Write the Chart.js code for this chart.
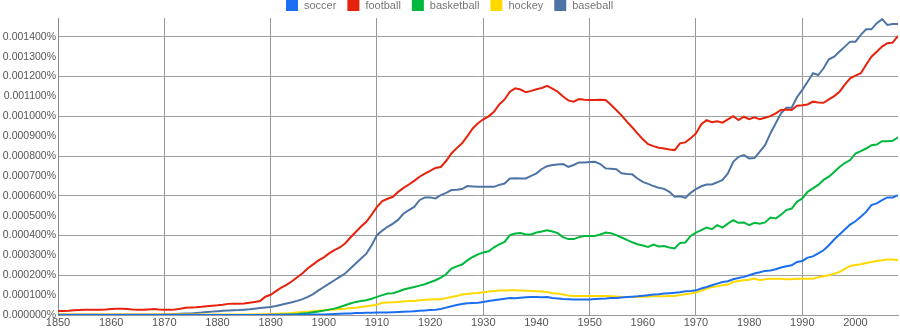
<!DOCTYPE html>
<html>
<head>
<meta charset="utf-8">
<script src="https://cdn.jsdelivr.net/npm/chart.js@4.4.1/dist/chart.umd.min.js"></script>
<style>
  html, body { margin: 0; padding: 0; background: #fff; }
  #wrap { width: 900px; height: 330px; position: relative; }
</style>
</head>
<body>
<div id="wrap"><canvas id="chart"></canvas></div>
<script>
//
// data, in millionths of a percent (1400 = 0.001400%), one value per year 1850-2008
//
const firstYear = 1850;
const lastYear = 2008;

const soccer = [
  0,0,0,0,0,0,0,0,0,0, 0,0,0,0,0,0,0,0,0,0,
  0,0,0,0,0,0,0,0,0,0, 0,0,0,0,0,0,0,0,0,0,
  1,1,1,1,1,1,2,2,2,2,
  3,4,5,6,7,8,10,10,11,11, 12,12,13,14,15,16,17,19,21,23,
  25,27,30,37,44,50,55,59,61,62, 66,70,74,78,82,86,84,87,89,91,
  90,89,90,86,83,80,79,78,78,78, 78,80,82,83,85,86,88,90,92,94,
  97,100,103,105,108,110,112,115,119,121, 124,133,141,150,158,166,170,180,186,192,
  200,209,215,222,224,230,239,245,250,267, 272,289,295,310,326,351,380,405,430,455,
  472,495,519,553,562,578,592,592,603
];
const football = [
  20,20,21,24,25,26,26,27,27,28, 30,31,31,30,28,27,26,28,30,28,
  27,27,28,32,37,38,39,41,44,47, 49,52,56,57,57,58,62,66,70,92,
  102,120,138,152,170,190,210,235,255,275,
  290,310,326,340,360,390,418,445,469,505, 544,573,585,595,620,640,657,675,696,712,
  725,740,745,775,813,840,864,900,939,965, 985,1000,1023,1060,1085,1124,1141,1135,1121,1128,
  1136,1143,1154,1140,1124,1100,1080,1074,1087,1083, 1082,1082,1084,1082,1058,1032,1005,973,945,914,
  885,860,850,842,838,833,830,864,869,890, 914,960,981,970,975,968,985,1001,981,998,
  986,995,985,993,1001,1015,1032,1035,1032,1053, 1056,1060,1074,1070,1068,1085,1102,1124,1160,1191,
  1205,1217,1260,1300,1325,1351,1368,1371,1405
];
const basketball = [
  0,0,0,0,0,0,0,0,0,0, 0,0,0,0,0,0,0,0,0,0,
  0,0,0,0,0,0,0,0,0,0, 0,0,0,0,0,0,0,0,0,0,
  0,0,1,2,3,5,8,10,14,18,
  22,27,32,40,49,58,66,70,74,82, 91,100,108,110,118,128,135,141,148,155,
  165,175,188,205,234,245,254,275,292,305, 315,321,340,355,368,402,410,413,405,405,
  415,420,427,420,412,392,382,382,392,398, 398,398,405,415,412,402,390,378,366,356,
  350,343,355,345,347,340,335,363,365,398, 415,427,440,432,452,440,460,477,464,466,
  452,464,460,466,491,486,505,528,536,570, 587,620,637,655,680,696,720,745,765,780,
  813,825,838,855,858,875,875,877,894
];
const hockey = [
  2,2,2,2,2,2,2,2,2,2, 2,2,2,2,2,2,2,2,2,2,
  2,2,2,2,2,2,2,2,2,2, 2,2,2,2,2,3,3,4,4,5,
  5,6,7,8,10,13,15,17,19,21,
  24,26,28,30,32,35,37,40,44,48, 52,62,63,64,66,68,70,71,74,77,
  78,79,79,85,91,96,103,106,109,111, 115,118,121,123,123,124,124,123,122,121,
  120,118,116,110,108,103,98,96,96,96, 96,96,96,96,95,93,91,91,91,91,
  92,93,94,95,95,96,96,100,104,108, 113,122,133,141,145,150,153,166,171,175,
  178,183,175,180,183,182,182,180,180,183, 183,183,183,190,195,200,208,217,232,247,
  252,255,262,267,272,276,279,279,276
];
const baseball = [
  3,3,3,3,3,3,3,3,3,3, 3,3,3,3,3,3,3,3,3,3,
  4,4,5,6,7,8,10,12,15,17, 19,21,23,24,25,27,29,32,35,38,
  40,45,52,58,64,71,80,91,105,124,
  141,158,175,192,209,234,259,284,309,351, 402,425,444,460,480,511,528,544,578,592,
  592,587,603,615,629,630,634,649,647,645, 645,645,645,655,662,687,688,687,687,700,
  713,735,749,755,758,760,746,755,768,768, 770,771,760,738,736,734,713,710,708,687,
  670,660,649,640,635,620,595,598,590,615, 634,648,657,657,668,680,713,771,796,805,
  788,790,822,855,914,965,1015,1043,1043,1096, 1133,1174,1217,1208,1242,1287,1300,1326,1351,1376,
  1376,1410,1438,1438,1469,1489,1460,1465,1465
];

const seriesNames = ['soccer', 'football', 'basketball', 'hockey', 'baseball'];
const seriesValues = [soccer, football, basketball, hockey, baseball];
const seriesColors = ['#1c6ef0', '#e6220c', '#00b93c', '#ffd900', '#4e74a6'];

// tick labels: every 0.0001% on y (grid every 0.0002%), every decade on x
const yMax = 1495;
const yTicks = [0, 100, 200, 300, 400, 500, 600, 700, 800, 900, 1000, 1100, 1200, 1300, 1400];
const yGridTicks = [200, 400, 600, 800, 1000, 1200, 1400];
const xTicks = [1850, 1860, 1870, 1880, 1890, 1900, 1910, 1920, 1930, 1940, 1950, 1960, 1970, 1980, 1990, 2000];
const xGridYears = [1870, 1890, 1910, 1930, 1950, 1970, 1990];

// turn a yearly list into {x, y} points
function toPoints(values) {
  return values.map((v, i) => ({ x: firstYear + i, y: v }));
}

// legend drawn along the top edge
const topLegend = {
  id: 'topLegend',
  afterDraw(chart) {
    const c = chart.ctx;
    c.save();
    c.font = '11px "Liberation Sans", Arial, sans-serif';
    c.textBaseline = 'middle';
    const box = 12, gap = 6, between = 11;
    let total = 0;
    seriesNames.forEach((n, i) => {
      total += box + gap + c.measureText(n).width + (i < seriesNames.length - 1 ? between : 0);
    });
    let x = Math.round(chart.width / 2 - total / 2);
    seriesNames.forEach((n, i) => {
      c.fillStyle = seriesColors[i];
      c.fillRect(x, 0, box, 11);
      c.fillStyle = '#777';
      c.fillText(n, x + box + gap, 6);
      x += box + gap + c.measureText(n).width + between;
    });
    c.restore();
  }
};

new Chart(document.getElementById('chart'), {
  type: 'line',
  data: {
    datasets: seriesNames.map((n, i) => ({
      label: n,
      data: toPoints(seriesValues[i]),
      borderColor: seriesColors[i],
      backgroundColor: seriesColors[i],
      borderWidth: 2,
      pointRadius: 0,
      fill: false,
      tension: 0
    }))
  },
  options: {
    responsive: true,
    maintainAspectRatio: false,
    animation: false,
    layout: { padding: { top: 18, right: 2, left: 0, bottom: 0 } },
    plugins: {
      legend: { display: false },
      tooltip: { enabled: false }
    },
    scales: {
      x: {
        type: 'linear',
        min: firstYear,
        max: lastYear,
        afterBuildTicks(scale) { scale.ticks = xTicks.map(v => ({ value: v })); },
        afterFit(scale) { scale.height = 15; },
        border: { color: '#999' },
        grid: {
          drawTicks: false,
          color: ctx => xGridYears.includes(ctx.tick.value) ? '#999' : 'rgba(0,0,0,0)'
        },
        ticks: {
          padding: 1,
          color: '#555',
          font: { family: '"Liberation Sans", Arial, sans-serif', size: 11 },
          maxRotation: 0,
          autoSkip: false,
          callback: v => String(v)
        }
      },
      y: {
        min: 0,
        max: yMax,
        afterBuildTicks(scale) { scale.ticks = yTicks.map(v => ({ value: v })); },
        afterFit(scale) { scale.width = 58; },
        border: { color: '#888' },
        grid: {
          drawTicks: false,
          color: ctx => yGridTicks.includes(ctx.tick.value) ? '#a0a0a0' : 'rgba(0,0,0,0)'
        },
        ticks: {
          padding: 2,
          color: '#555',
          autoSkip: false,
          font: { family: '"Liberation Sans", Arial, sans-serif', size: 10.5 },
          callback: v => (v / 1e6).toFixed(6) + '%'
        }
      }
    }
  },
  plugins: [topLegend]
});
</script>
</body>
</html>
